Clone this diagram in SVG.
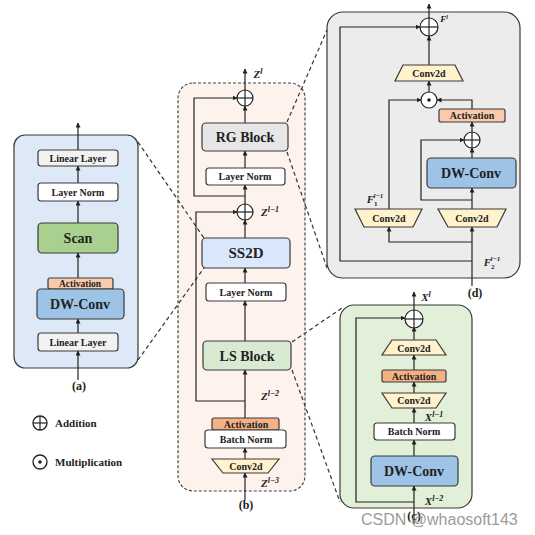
<svg xmlns="http://www.w3.org/2000/svg" width="535" height="535" viewBox="0 0 535 535">
<defs>
<marker id="ah" viewBox="0 0 10 10" refX="9" refY="5" markerWidth="5" markerHeight="5" orient="auto-start-reverse" markerUnits="userSpaceOnUse">
<path d="M0,0 L10,5 L0,10 z" fill="#222"/>
</marker>
<style>
text{font-family:"Liberation Serif","Times New Roman",serif;font-weight:bold;fill:#222;text-anchor:middle}
.b{stroke:#3a3a3a;stroke-width:1.2}
.w{fill:#fff}
.g{fill:#f2f2f2}
.act{fill:#f8cbad}
.act2{fill:#f4b183}
.dw{fill:#9dc3e6}
.cv{fill:#fff2cc}
.ln{fill:none;stroke:#222;stroke-width:1.2}
.ar{fill:none;stroke:#222;stroke-width:1.2;marker-end:url(#ah)}
.dash{fill:none;stroke:#333;stroke-width:1.2;stroke-dasharray:4 3}
.s10{font-size:10px}
.s14{font-size:14px}
.m{font-style:italic;font-size:11px}
.sup{font-size:8px;font-style:italic}
</style>
</defs>

<!-- Panel containers -->
<g id="panel-a">
<rect x="14" y="135" width="124" height="233" rx="11" fill="#dde9f6" class="b"/>
</g>
<g id="panel-b">
<rect x="178" y="83" width="127" height="408" rx="15" fill="#fdf3ec" stroke="#444" stroke-width="1.2" stroke-dasharray="3 2"/>
</g>
<g id="panel-d">
<rect x="327" y="12" width="193" height="266" rx="16" fill="#ececec" class="b"/>
</g>
<g id="panel-c">
<rect x="340" y="305" width="132" height="203" rx="14" fill="#e2efd9" class="b"/>
</g>

<!-- Connectors -->
<g id="connectors">
<line class="dash" x1="138" y1="142" x2="204" y2="238"/>
<line class="dash" x1="138" y1="360" x2="204" y2="268"/>
<line class="dash" x1="287" y1="122" x2="327" y2="30"/>
<line class="dash" x1="287" y1="152" x2="327" y2="268"/>
<line class="dash" x1="292" y1="342" x2="342" y2="308"/>
<line class="dash" x1="292" y1="370" x2="340" y2="502"/>

<line class="ar" x1="78" y1="380" x2="78" y2="351"/>
<line class="ar" x1="78" y1="333" x2="78" y2="319"/>
<line class="ar" x1="78" y1="278" x2="78" y2="253"/>
<line class="ar" x1="78" y1="223" x2="78" y2="201"/>
<line class="ar" x1="78" y1="183" x2="78" y2="166"/>
<line class="ar" x1="78" y1="150" x2="78" y2="123"/>

<line class="ar" x1="245" y1="500" x2="245" y2="473"/>
<line class="ar" x1="245" y1="459" x2="245" y2="448"/>
<line class="ar" x1="245" y1="418" x2="245" y2="370"/>
<polyline class="ar" points="245,401 196,401 196,212 237,212"/>
<line class="ar" x1="245" y1="341" x2="245" y2="301"/>
<line class="ar" x1="245" y1="283" x2="245" y2="268"/>
<line class="ar" x1="245" y1="238" x2="245" y2="220"/>
<line class="ar" x1="245" y1="204" x2="245" y2="185"/>
<polyline class="ar" points="245,196 194,196 194,98 237,98"/>
<line class="ar" x1="245" y1="168" x2="245" y2="151"/>
<line class="ar" x1="245" y1="123" x2="245" y2="106"/>
<line class="ar" x1="245" y1="90" x2="245" y2="69"/>

<line class="ar" x1="472" y1="286" x2="472" y2="227"/>
<polyline class="ar" points="472,261 340,261 340,27 420,27"/>
<polyline class="ar" points="472,242 389,242 389,227"/>
<line class="ar" x1="472" y1="209" x2="472" y2="188"/>
<polyline class="ar" points="472,200 421,200 421,140 464,140"/>
<line class="ar" x1="472" y1="158" x2="472" y2="148"/>
<line class="ar" x1="472" y1="132" x2="472" y2="122"/>
<polyline class="ar" points="472,109 472,100 437,100"/>
<polyline class="ar" points="389,209 389,100 421,100"/>
<line class="ar" x1="429" y1="92" x2="429" y2="81"/>
<line class="ar" x1="429" y1="65" x2="429" y2="36"/>
<line class="ar" x1="429" y1="18" x2="429" y2="4"/>

<line class="ar" x1="414" y1="524" x2="414" y2="486"/>
<polyline class="ar" points="414,502 356,502 356,318 405,318"/>
<line class="ar" x1="414" y1="456" x2="414" y2="440"/>
<line class="ar" x1="414" y1="423" x2="414" y2="408"/>
<line class="ar" x1="414" y1="393" x2="414" y2="382"/>
<line class="ar" x1="414" y1="370" x2="414" y2="355"/>
<line class="ar" x1="414" y1="340" x2="414" y2="327"/>
<line class="ar" x1="414" y1="310" x2="414" y2="292"/>
</g>

<g id="a-linear-top"><rect x="38" y="150" width="80" height="16" rx="3" class="g b"/><text x="78" y="161.5" class="s10">Linear Layer</text></g>
<g id="a-layernorm"><rect x="38" y="183" width="80" height="18" rx="3" class="w b"/><text x="78" y="195.5" class="s10">Layer Norm</text></g>
<g id="a-scan"><rect x="38" y="223" width="80" height="30" rx="4" fill="#a9d08e" class="b"/><text x="78" y="243" class="s14">Scan</text></g>
<g id="a-activation"><rect x="48" y="278" width="65" height="11" rx="2" class="act b"/><text x="80" y="287" font-size="9.5px">Activation</text></g>
<g id="a-dwconv"><rect x="37" y="289" width="87" height="30" rx="4" class="dw b"/><text x="80" y="309" class="s14">DW-Conv</text></g>
<g id="a-linear-bottom"><rect x="38" y="333" width="80" height="18" rx="3" class="g b"/><text x="78" y="345.5" class="s10">Linear Layer</text></g>
<g id="a-label"><text x="79" y="390" font-size="12px">(a)</text></g>

<g id="legend-addition">
<circle cx="40" cy="423" r="7" fill="none" stroke="#222" stroke-width="1.3"/>
<line class="ln" x1="33" y1="423" x2="47" y2="423"/><line class="ln" x1="40" y1="416" x2="40" y2="430"/>
<text x="55" y="427" font-size="11px" style="text-anchor:start">Addition</text>
</g>
<g id="legend-multiplication">
<circle cx="40" cy="462" r="7" fill="none" stroke="#222" stroke-width="1.3"/>
<circle cx="40" cy="462" r="1.8" fill="#222"/>
<text x="55" y="466" font-size="11px" style="text-anchor:start">Multiplication</text>
</g>

<g id="b-add-top">
<circle cx="245" cy="98" r="8" fill="#fff" stroke="#222" stroke-width="1.2"/>
<line class="ln" x1="237" y1="98" x2="253" y2="98"/><line class="ln" x1="245" y1="90" x2="245" y2="106"/>
<text x="258" y="78" class="m">Z<tspan class="sup" dy="-4">l</tspan></text>
</g>
<g id="b-rgblock"><rect x="202" y="123" width="86" height="28" rx="4" fill="#e6e6e6" class="b"/><text x="245" y="142" class="s14">RG Block</text></g>
<g id="b-layernorm-top"><rect x="206" y="168" width="79" height="17" rx="3" class="w b"/><text x="245" y="180" class="s10">Layer Norm</text></g>
<g id="b-add-mid">
<circle cx="245" cy="212" r="8" fill="#fff" stroke="#222" stroke-width="1.2"/>
<line class="ln" x1="237" y1="212" x2="253" y2="212"/><line class="ln" x1="245" y1="204" x2="245" y2="220"/>
<text x="270" y="216" class="m">Z<tspan class="sup" dy="-4">l−1</tspan></text>
</g>
<g id="b-ss2d"><rect x="202" y="238" width="88" height="30" rx="4" fill="#dae8fc" class="b"/><text x="246" y="258" font-size="15px">SS2D</text></g>
<g id="b-layernorm-mid"><rect x="206" y="283" width="80" height="18" rx="3" class="w b"/><text x="246" y="295.5" class="s10">Layer Norm</text></g>
<g id="b-lsblock"><rect x="203" y="341" width="88" height="29" rx="4" fill="#d9ead3" class="b"/><text x="247" y="360.5" class="s14">LS Block</text></g>
<g id="b-zl2"><text x="270" y="400" class="m">Z<tspan class="sup" dy="-4">l−2</tspan></text></g>
<g id="b-activation"><rect x="212" y="418" width="67" height="12" rx="2" class="act2 b"/><text x="246" y="427.5" class="s10">Activation</text></g>
<g id="b-batchnorm"><rect x="205" y="430" width="81" height="18" rx="3" class="w b"/><text x="246" y="442.5" class="s10">Batch Norm</text></g>
<g id="b-conv2d"><polygon points="212,459 279,459 268,473 223,473" class="cv b"/><text x="246" y="469.5" class="s10">Conv2d</text></g>
<g id="b-zl3"><text x="270" y="487" class="m">Z<tspan class="sup" dy="-4">l−3</tspan></text></g>
<g id="b-label"><text x="246" y="509" font-size="12px">(b)</text></g>

<g id="d-add-top">
<circle cx="429" cy="27" r="9" fill="#fff" stroke="#222" stroke-width="1.2"/>
<line class="ln" x1="420" y1="27" x2="438" y2="27"/><line class="ln" x1="429" y1="18" x2="429" y2="36"/>
<text x="444" y="22" font-size="9px" font-style="italic">F<tspan font-size="6px" dy="-3">l</tspan></text>
</g>
<g id="d-conv2d-top"><polygon points="403,65 455,65 463,81 395,81" class="cv b"/><text x="429" y="77" class="s10">Conv2d</text></g>
<g id="d-mul">
<circle cx="429" cy="100" r="8" fill="#fff" stroke="#222" stroke-width="1.2"/>
<circle cx="429" cy="100" r="1.8" fill="#222"/>
</g>
<g id="d-activation"><rect x="439" y="109" width="66" height="13" rx="2" class="act b"/><text x="472" y="119" class="s10">Activation</text></g>
<g id="d-add-mid">
<circle cx="472" cy="140" r="8" fill="#fff" stroke="#222" stroke-width="1.2"/>
<line class="ln" x1="464" y1="140" x2="480" y2="140"/><line class="ln" x1="472" y1="132" x2="472" y2="148"/>
</g>
<g id="d-dwconv"><rect x="427" y="158" width="89" height="30" rx="4" class="dw b"/><text x="471" y="178" class="s14">DW-Conv</text></g>
<g id="d-conv2d-left"><polygon points="355,209 422,209 413,227 364,227" class="cv b"/><text x="389" y="221.5" class="s10">Conv2d</text></g>
<g id="d-f1"><text x="375" y="203" class="m">F<tspan font-size="7px" font-style="normal" dy="3">1</tspan><tspan font-size="7px" dx="-4" dy="-8">l−1</tspan></text></g>
<g id="d-conv2d-right"><polygon points="438,209 506,209 497,227 448,227" class="cv b"/><text x="472" y="221.5" class="s10">Conv2d</text></g>
<g id="d-f2"><text x="492" y="266" class="m">F<tspan font-size="7px" font-style="normal" dy="3">2</tspan><tspan font-size="7px" dx="-4" dy="-8">l−1</tspan></text></g>
<g id="d-label"><text x="475" y="297" font-size="12px">(d)</text></g>

<g id="c-add">
<circle cx="414" cy="319" r="9" fill="#fff" stroke="#222" stroke-width="1.2"/>
<line class="ln" x1="405" y1="319" x2="423" y2="319"/><line class="ln" x1="414" y1="310" x2="414" y2="328"/>
<text x="426" y="301" class="m">X<tspan class="sup" dy="-4">l</tspan></text>
</g>
<g id="c-conv2d-top"><polygon points="392,340 436,340 446,355 382,355" class="cv b"/><text x="414" y="351.5" class="s10">Conv2d</text></g>
<g id="c-activation"><rect x="382" y="370" width="64" height="12" rx="2" class="act2 b"/><text x="414" y="380" class="s10">Activation</text></g>
<g id="c-conv2d-bottom"><polygon points="382,393 446,393 436,408 392,408" class="cv b"/><text x="414" y="404" class="s10">Conv2d</text></g>
<g id="c-xl1"><text x="434" y="421" class="m">X<tspan class="sup" dy="-4">l−1</tspan></text></g>
<g id="c-batchnorm"><rect x="374" y="423" width="81" height="17" rx="3" class="w b"/><text x="414" y="435" class="s10">Batch Norm</text></g>
<g id="c-dwconv"><rect x="371" y="456" width="87" height="30" rx="4" class="dw b"/><text x="414" y="476" class="s14">DW-Conv</text></g>
<g id="c-xl2"><text x="434" y="505" class="m">X<tspan class="sup" dy="-4">l−2</tspan></text></g>
<g id="c-label"><text x="414" y="520" font-size="12px">(c)</text></g>

<text x="361" y="525" style="text-anchor:start;font-family:'Liberation Sans',Arial,sans-serif;font-weight:normal;fill:#8a8a8a;opacity:0.85" font-size="16px">CSDN @whaosoft143</text>
</svg>
